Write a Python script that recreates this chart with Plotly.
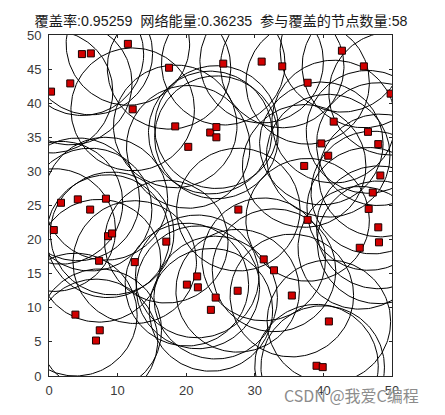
import numpy as np
import plotly.graph_objects as go

# Node positions (all nodes participate in coverage)
node_x = [0.3, 3.1, 4.8, 6.1, 11.5, 17.5, 12.2, 18.4, 23.5, 24.4, 24.4, 20.3,
          25.4, 31.0, 34.0, 42.7, 45.9, 37.7, 49.8, 41.5, 46.5, 39.7, 48.0,
          1.75, 4.2, 8.3, 6.0, 0.7, 8.6, 9.2, 17.1, 7.3, 12.5,
          40.7, 37.2, 48.3, 47.2, 46.6, 27.6, 37.7, 48.0, 48.1, 45.3, 31.3,
          21.6, 20.1, 21.7, 24.3, 23.6, 3.85, 7.4, 6.85,
          32.8, 27.5, 35.4, 40.8, 39.0, 39.9]
node_y = [41.7, 42.9, 47.2, 47.3, 48.7, 45.2, 39.1, 36.6, 35.7, 36.5, 35.0, 33.6,
          45.8, 46.1, 45.4, 47.7, 45.4, 43.0, 41.4, 37.3, 35.8, 34.1, 34.0,
          25.4, 25.9, 26.0, 24.4, 21.4, 20.5, 20.9, 19.7, 16.9, 16.7,
          32.3, 30.8, 29.4, 26.9, 24.5, 24.4, 22.9, 21.8, 19.6, 18.8, 17.1,
          14.6, 13.4, 13.0, 11.5, 9.7, 9.0, 6.7, 5.2,
          15.5, 12.5, 11.8, 8.0, 1.5, 1.3]
sense_radius = 9.0

coverage_rate = "0.95259"
network_energy = "0.36235"
n_covering = 58
title_text = f"覆盖率:{coverage_rate}  网络能量:{network_energy}  参与覆盖的节点数量:{n_covering}"

x_ticks = [0, 10, 20, 30, 40, 50]
y_ticks = [0, 5, 10, 15, 20, 25, 30, 35, 40, 45, 50]

# circles around each node
theta = np.linspace(0, 2 * np.pi, 181)
cx, cy = [], []
for xc, yc in zip(node_x, node_y):
    cx.extend(list(xc + sense_radius * np.cos(theta)) + [None])
    cy.extend(list(yc + sense_radius * np.sin(theta)) + [None])

fig = go.Figure()
fig.add_trace(go.Scatter(x=cx, y=cy, mode="lines",
                         line=dict(color="black", width=1),
                         hoverinfo="skip", showlegend=False))
fig.add_trace(go.Scatter(x=node_x, y=node_y, mode="markers",
                         marker=dict(symbol="square", size=7, color="#d20000",
                                     line=dict(color="#1a0000", width=1)),
                         showlegend=False))

axis_common = dict(showgrid=False, zeroline=False, showline=True,
                   linecolor="#262626", linewidth=1, mirror="ticks",
                   ticks="inside", ticklen=3, tickcolor="#262626", automargin=False,
                   tickfont=dict(family="Liberation Sans, Arial", size=13, color="#3a3a3a"))

fig.update_xaxes(range=[0, 50], tickvals=x_ticks, ticklabelstandoff=2, **axis_common)
fig.update_yaxes(range=[0, 50], tickvals=y_ticks, ticklabelstandoff=4, **axis_common)

# the page body adds an 8px margin, so the figure is sized to fit inside it
W, H = 429, 399
fig.update_layout(
    width=W, height=H,
    margin=dict(l=41, r=45, t=27, b=31, autoexpand=False),
    paper_bgcolor="white", plot_bgcolor="white",
    title=dict(text=title_text, x=(213 - 41) / 343, xref="paper", xanchor="center",
               y=1 - 13.5 / H, yanchor="middle", yref="container", automargin=False,
               font=dict(family="Liberation Sans, Noto Sans CJK SC", size=14.2, color="#1a1a1a")),
    annotations=[dict(text="CSDN @我爱C编程", xref="paper", yref="paper",
                      x=(351 - 49) / 343, y=-(395 - 376) / 341,
                      xanchor="center", yanchor="middle", showarrow=False,
                      font=dict(family="Noto Sans CJK SC, Liberation Sans", size=16,
                                color="#8c8c8c", shadow="1px 1px 1px #ffffff"))],
)

fig.write_html("out.html")
